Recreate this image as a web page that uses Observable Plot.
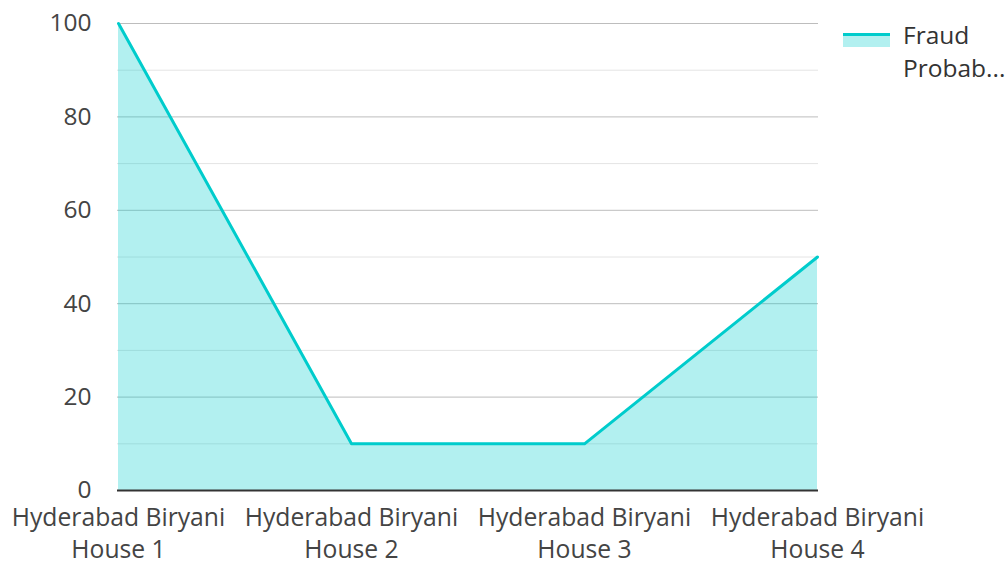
<!DOCTYPE html>
<html>
<head>
<meta charset="utf-8">
<script src="https://cdn.jsdelivr.net/npm/d3@7"></script>
<script src="https://cdn.jsdelivr.net/npm/@observablehq/plot@0.6"></script>
<style>
  html, body { margin: 0; padding: 0; background: #fff; }
  #wrap { position: relative; width: 1008px; height: 562px; font-family: "Open Sans", sans-serif; }
  #legend { position: absolute; left: 843px; top: 18px; display: flex; align-items: flex-start; }
  #legend .sw { width: 47px; height: 14px; margin-top: 15px; background: rgba(0,204,204,0.3); border-top: 3px solid #00cccc; box-sizing: border-box; }
  #legend .tx { margin-left: 13px; font-size: 24.5px; line-height: 33px; color: #333; }
</style>
</head>
<body>
<div id="wrap"></div>
<script>
const categories = ["Hyderabad Biryani House 1", "Hyderabad Biryani House 2", "Hyderabad Biryani House 3", "Hyderabad Biryani House 4"];
const fraudProbability = [100, 10, 10, 50];
const seriesName = "Fraud Probab...";
const majorTicks = [0, 20, 40, 60, 80, 100];
const minorTicks = [10, 30, 50, 70, 90];

const data = categories.map((c, i) => ({ category: c, value: fraudProbability[i] }));

const chart = Plot.plot({
  width: 1008,
  height: 562,
  marginLeft: 117,
  marginRight: 190,
  marginTop: 23,
  marginBottom: 72,
  style: { fontFamily: "'Open Sans', sans-serif", background: "#fff", overflow: "visible" },
  x: { type: "point", domain: categories, padding: 0 },
  y: { domain: [0, 100] },
  marks: [
    Plot.gridY(minorTicks, { stroke: "#e4e4e4", strokeOpacity: 1, strokeWidth: 1 }),
    Plot.gridY(majorTicks.filter(d => d > 0), { stroke: "#bdbdbd", strokeOpacity: 1, strokeWidth: 1 }),
    Plot.areaY(data, { x: "category", y: "value", fill: "#00cccc", fillOpacity: 0.3 }),
    Plot.lineY(data, { x: "category", y: "value", stroke: "#00cccc", strokeWidth: 3 }),
    Plot.ruleY([0], { stroke: "#333", strokeWidth: 2 }),
    Plot.axisY(majorTicks, { tickSize: 0, tickPadding: 26, fontSize: 24.5, fill: "#444", label: null }),
    Plot.axisX({ tickSize: 0, tickPadding: 12, fontSize: 24.7, fill: "#444", label: null, lineHeight: 1.32,
      tickFormat: d => d.replace(" House", "\nHouse") })
  ]
});

const wrap = document.getElementById("wrap");
wrap.appendChild(chart);
const legend = document.createElement("div");
legend.id = "legend";
legend.innerHTML = '<div class="sw"></div><div class="tx"></div>';
legend.querySelector(".tx").innerHTML = seriesName.replace(" ", "<br>");
wrap.appendChild(legend);
</script>
</body>
</html>
